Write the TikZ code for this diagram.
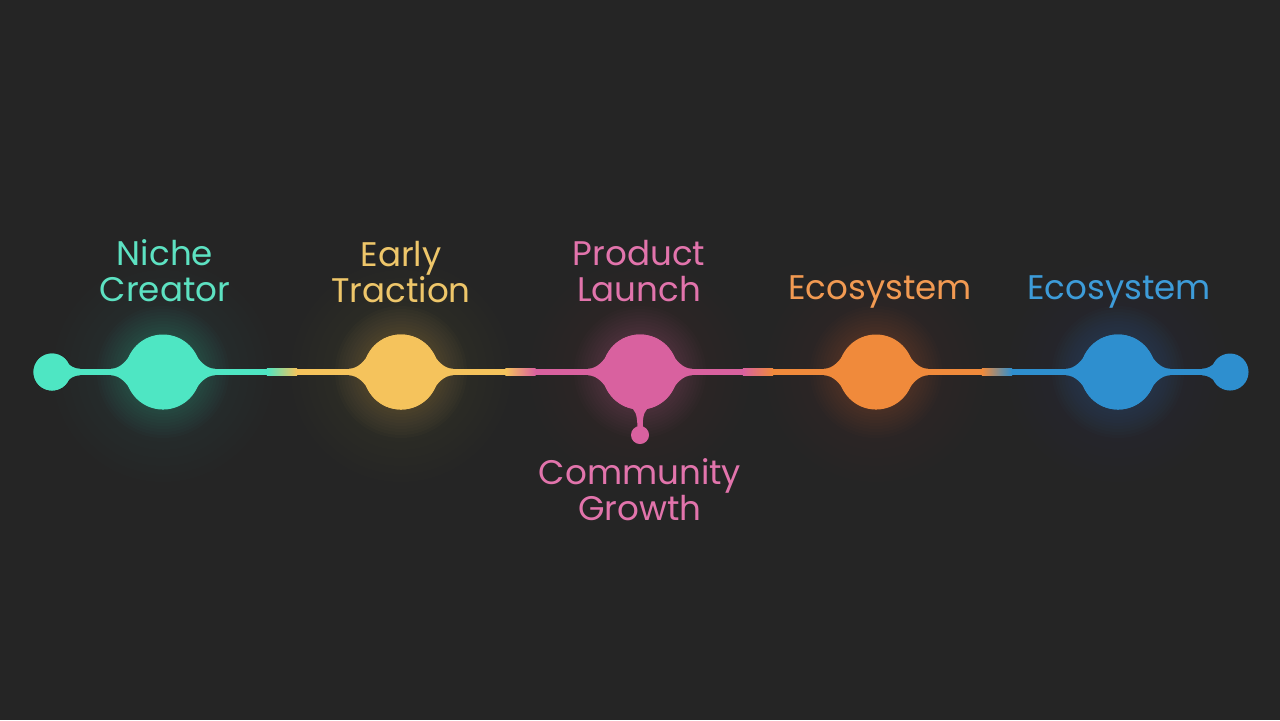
\documentclass[tikz,border=0pt]{standalone}
\usepackage{fontspec}
\setmainfont{Poppins}
\definecolor{bg}{HTML}{252525}
\definecolor{cteal}{HTML}{4EE6C3}
\definecolor{cyel}{HTML}{F5C35C}
\definecolor{cpink}{HTML}{D9619F}
\definecolor{corg}{HTML}{F08A3B}
\definecolor{cblue}{HTML}{2E8FCF}
\definecolor{tteal}{HTML}{5DE2C2}
\definecolor{tyel}{HTML}{EEC66A}
\definecolor{tpink}{HTML}{E274AC}
\definecolor{torg}{HTML}{F29A52}
\definecolor{tblue}{HTML}{3D9CD9}
\tikzset{
  bigdot/.style={circle, inner sep=0pt, minimum size=0.75cm},
  smalldot/.style={circle, inner sep=0pt, minimum size=0.37cm},
  tinydot/.style={circle, inner sep=0pt, minimum size=0.18cm},
  lbl/.style={align=center, font=\fontsize{9.7}{10.3}\selectfont, inner sep=0pt},
  pics/neck/.style={code={
    \fill (-52,3.3) .. controls (-43,3.3) and (-36,11.6) .. (-32,18.5) -- (0,0)
          -- (-32,-18.5) .. controls (-36,-11.6) and (-43,-3.3) .. (-52,-3.3) -- cycle;}},
  pics/smallneck/.style={code={
    \fill (-28,3.3) .. controls (-22,3.3) and (-18,6.5) .. (-15.6,9) -- (0,0)
          -- (-15.6,-9) .. controls (-18,-6.5) and (-22,-3.3) .. (-28,-3.3) -- cycle;}}
}
\begin{document}
\begin{tikzpicture}[x=0.01cm, y=-0.01cm]
\fill[bg] (0,0) rectangle (1280,720);
\useasboundingbox (0,0) rectangle (1280,720);

% glows
\foreach \c/\xx in {cteal/163, cyel/401, cpink/640, corg/876, cblue/1118}{
  \foreach \r in {39,42,...,66}{
    \fill[\c, opacity=0.018] (\xx,372) circle ({\r*0.01cm});
  }
  \foreach \r in {70,78,...,110}{
    \fill[\c, opacity=0.008] (\xx,372) circle ({\r*0.01cm});
  }
}

% nodes
\node[smalldot, fill=cteal] (s0) at (52,372) {};
\node[bigdot, fill=cteal] (n1) at (163,372) {};
\node[bigdot, fill=cyel] (n2) at (401,372) {};
\node[bigdot, fill=cpink] (n3) at (640,372) {};
\node[bigdot, fill=corg] (n4) at (876,372) {};
\node[bigdot, fill=cblue] (n5) at (1118,372) {};
\node[smalldot, fill=cblue] (s6) at (1230,372) {};
\node[tinydot, fill=cpink] (d3) at (640,435) {};

% connectors (solid halves + colour blend at the middle)
\foreach \a/\b/\ca/\cb in {n1/n2/cteal/cyel, n2/n3/cyel/cpink, n3/n4/cpink/corg, n4/n5/corg/cblue}{
  \path (\a) -- (\b) coordinate[pos=0.5] (m);
  \fill[\ca] ([yshift=0.033cm]\a.center) rectangle ([xshift=-0.15cm, yshift=-0.033cm]m);
  \fill[\cb] ([xshift=0.15cm, yshift=0.033cm]m) rectangle ([yshift=-0.033cm]\b.center);
  \shade[left color=\ca, right color=\cb] ([xshift=-0.151cm, yshift=0.031cm]m) rectangle ([xshift=0.151cm, yshift=-0.031cm]m);
}
\fill[cteal] ([yshift=0.033cm]s0.center) rectangle ([yshift=-0.033cm]n1.center);
\fill[cblue] ([yshift=0.033cm]n5.center) rectangle ([yshift=-0.033cm]s6.center);
\draw[cpink, line width=0.05cm] (n3.center) -- (d3.center);

% necks
\foreach \c/\xx in {cteal/163, cyel/401, cpink/640, corg/876, cblue/1118}{
  \pic[\c] at (\xx,372) {neck};
  \pic[\c, xscale=-1] at (\xx,372) {neck};
}
\pic[cteal, xscale=-1] at (52,372) {smallneck};
\pic[cblue] at (1230,372) {smallneck};
\fill[cpink] (628,405) .. controls (636,410) and (637,414) .. (637.5,428) -- (642.5,428) .. controls (643,414) and (644,410) .. (652,405) -- cycle;

% redraw dots on top
\fill[cteal] (s0) circle (0.185cm);
\fill[cteal] (n1) circle (0.37cm);
\fill[cyel] (n2) circle (0.375cm);
\fill[cpink] (n3) circle (0.375cm);
\fill[corg] (n4) circle (0.37cm);
\fill[cblue] (n5) circle (0.375cm);
\fill[cblue] (s6) circle (0.18cm);
\fill[cpink] (d3) circle (0.085cm);

% labels
\node[lbl, text=tteal] (l1) at (165,271) {Niche\\Creator};
\node[lbl, text=tyel] (l2) at (401,272) {Early\\Traction};
\node[lbl, text=tpink] (l3) at (639,271) {Product\\Launch};
\node[lbl, text=torg] (l4) at (880,292) {Ecosystem};
\node[lbl, text=tblue] (l5) at (1119,292) {Ecosystem};
\node[lbl, text=tpink] (l6) at (640,490) {Community\\Growth};
\end{tikzpicture}
\end{document}
